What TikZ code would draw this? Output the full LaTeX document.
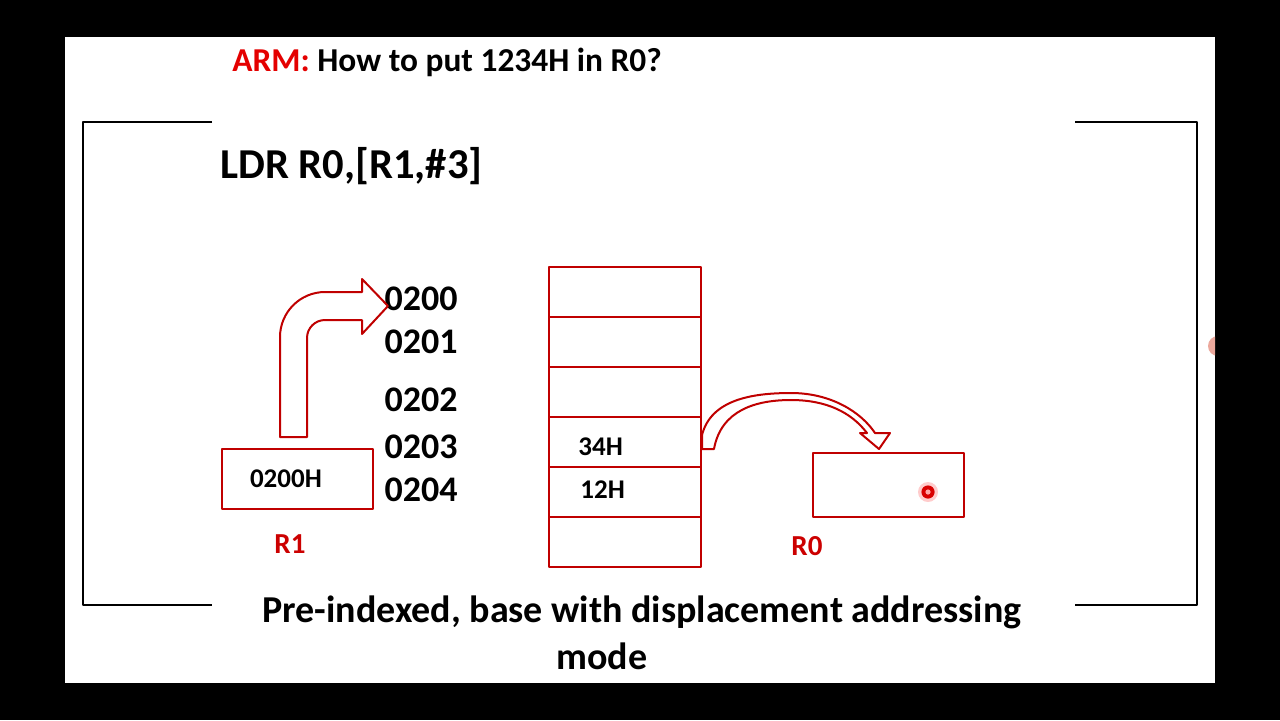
\documentclass[tikz,border=0pt]{standalone}
\usepackage{fontspec}
\setmainfont{Carlito}
\usetikzlibrary{positioning, calc}
\definecolor{boxred}{RGB}{192,0,0}
\definecolor{lblred}{RGB}{204,0,0}
\definecolor{armred}{RGB}{228,0,0}
\definecolor{dotpink}{RGB}{236,168,156}

\begin{document}
\begin{tikzpicture}[x=0.5pt, y=-0.5pt, line join=round,
  cell/.style={rectangle, draw=boxred, line width=1pt, minimum width=76pt,
    minimum height=25pt, inner sep=0pt},
  reg/.style={rectangle, draw=boxred, line width=1pt, minimum width=75.5pt,
    minimum height=30pt, inner xsep=14pt, text width=47.5pt, align=left,
    font=\fontsize{13.5pt}{16pt}\selectfont\bfseries},
  addr/.style={inner sep=0pt, font=\fontsize{18pt}{20pt}\selectfont\bfseries},
  val/.style={inner sep=0pt, font=\fontsize{13.5pt}{16pt}\selectfont\bfseries},
  reglabel/.style={inner sep=0pt, text=lblred, font=\fontsize{14.5pt}{16pt}\selectfont\bfseries},
  blockarrow/.style={draw=boxred, line width=1pt, fill=white}]

  \fill[black] (0,0) rectangle (1280,720);
  \fill[white] (65,37) rectangle (1215,683);
  \begin{scope}
    \clip (65,37) rectangle (1215,683);
    \fill[dotpink] (1218,346) circle (5pt);
  \end{scope}

  \draw[line width=0.7pt] (212,122) -- (83,122) -- (83,605) -- (212,605);
  \draw[line width=0.7pt] (1075,122) -- (1197,122) -- (1197,605) -- (1075,605);

  \node[inner sep=0pt, anchor=west, font=\fontsize{16.7pt}{20pt}\selectfont\bfseries] (title) at (232,62)
    {\textcolor{armred}{ARM:} How to put 1234H in R0?};
  \node[inner sep=0pt, anchor=west, font=\fontsize{21.3pt}{25pt}\selectfont\bfseries] (instr) at (220,166)
    {LDR R0,[R1,\#3]};

  \foreach \i in {1,...,6}
    \node[cell] (mem\i) at (625,{242+50*\i}) {};
  \node[val, right=15pt of mem4.west, yshift=-2.5pt] (v34) {34H};
  \node[val, right=16pt of mem5.west, yshift=1pt] (v12) {12H};

  \foreach \a/\y in {0200/299, 0201/342, 0202/400, 0203/447, 0204/490}
    \node[addr] (addr\a) at (421,\y) {\a};

  \node[reg] (r1) at (297.5,479) {0200H};
  \node[reglabel, below=12pt of r1.south, xshift=-3.75pt] (r1lbl) {R1};

  \node[cell, minimum width=75.5pt, minimum height=32pt] (r0) at (888.5,485) {};
  \node[reglabel, below=9pt of r0.south west, xshift=-2.5pt] (r0lbl) {R0};

  \begin{scope}[shift={(r1.north)}]
    \draw[blockarrow] (-17.5,-11) -- (-17.5,-111)
      .. controls (-17.5,-135.8) and (2.7,-156) .. (27.5,-156)
      -- (64.5,-156) -- (64.5,-169) -- (90.5,-142) -- (64.5,-114) -- (64.5,-128)
      -- (27.5,-128) .. controls (17.6,-128) and (9.5,-120) .. (9.5,-110)
      -- (9.5,-11) -- cycle;
  \end{scope}

  \begin{scope}[shift={(mem4.east)}]
    \draw[blockarrow] (0,7) -- (0,-7)
      .. controls (9,-42) and (49,-49) .. (89,-49)
      .. controls (129,-49) and (159,-30) .. (173,-9)
      -- (188,-9) -- (177,7) -- (158,-9) -- (165,-9)
      .. controls (149,-30) and (124,-42) .. (89,-42)
      .. controls (54,-42) and (19,-32) .. (12,7) -- cycle;
  \end{scope}

  \fill[red!20] (928,492) circle (5pt);
  \fill[red!85!black] (928,492) circle (3.3pt);
  \fill[red!35!white] (928,492) circle (1.3pt);

  \node[inner sep=0pt, align=center, font=\fontsize{19pt}{23.5pt}\selectfont\bfseries] (caption) at (642,633)
    {Pre-indexed, base with displacement addressing\\mode\hspace*{40pt}};
\end{tikzpicture}
\end{document}
